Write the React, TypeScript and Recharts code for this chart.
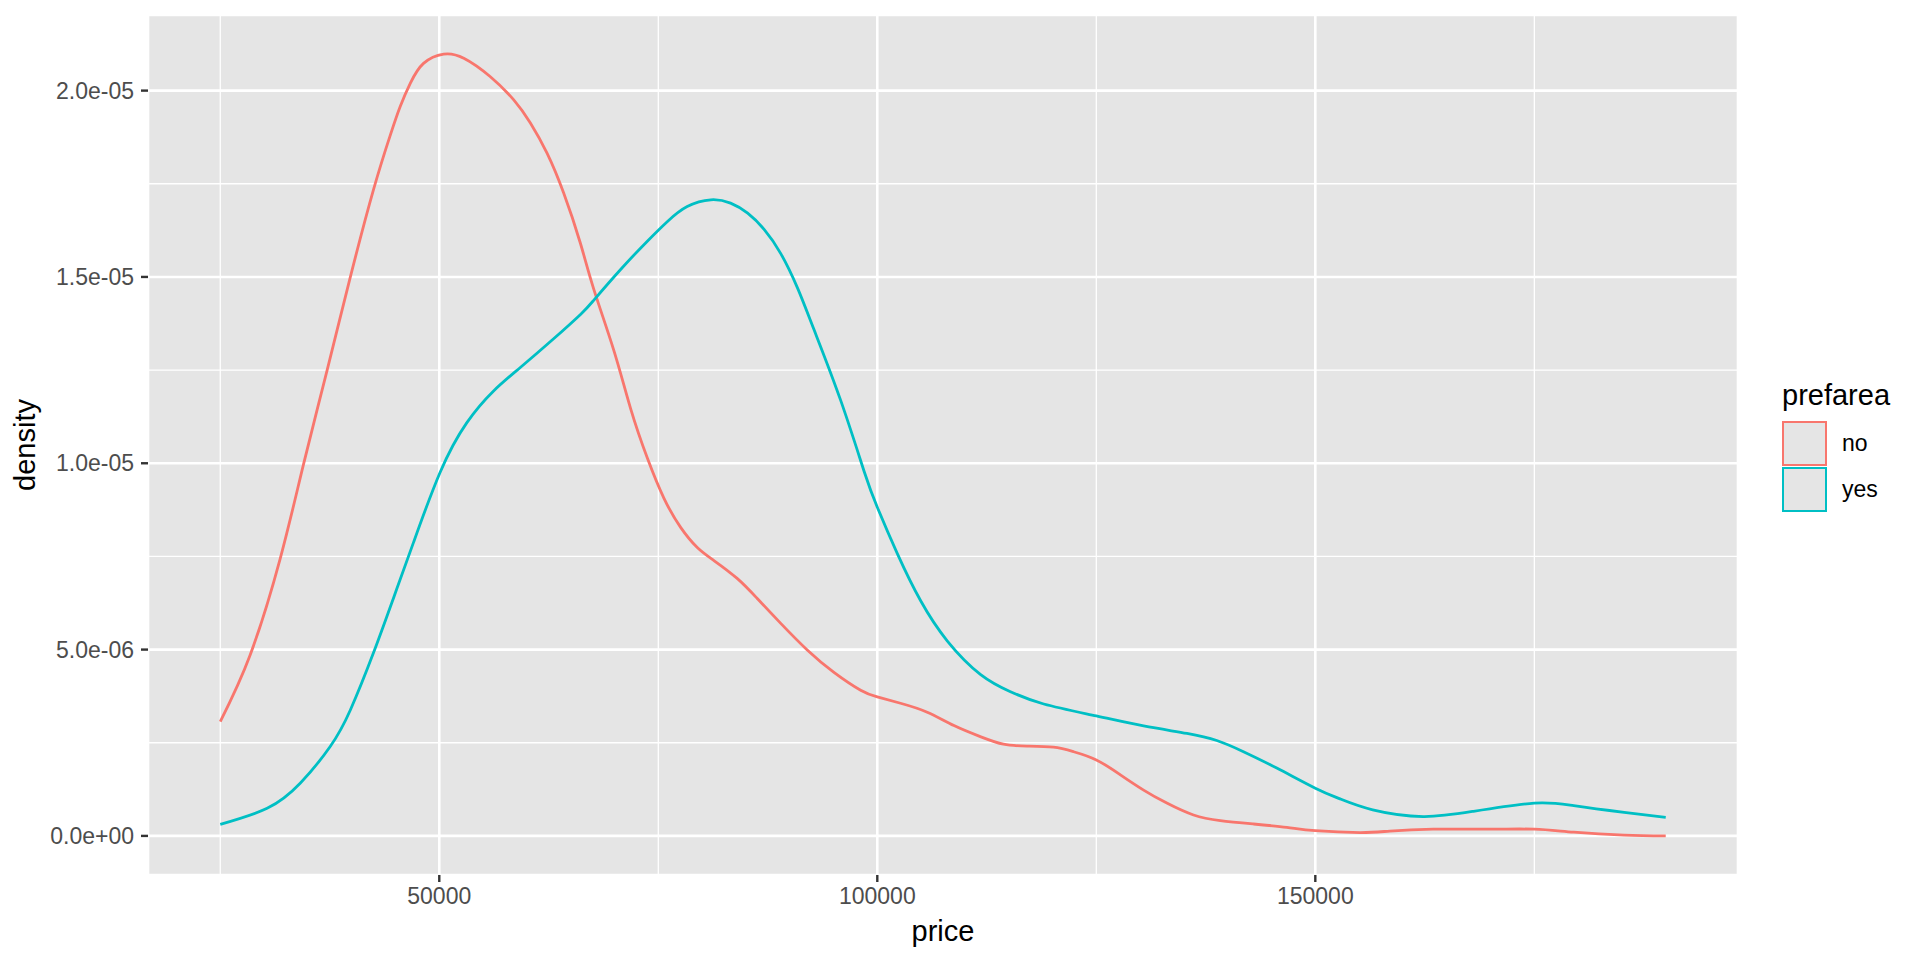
import { LineChart, Line, XAxis, YAxis, CartesianGrid, ReferenceLine, Label } from 'recharts';

// density of price, prefarea = "no"
const priceNo = [
  25000, 28400, 31850, 34500, 37200, 39850, 42500, 44400, 45550, 46700, 48200,
  50500, 52800, 55800, 58500, 60400, 62300, 64200, 66100, 67650, 69950, 71850, 73750,
  75650, 77550, 79450, 81350, 84000, 86300, 88950, 92000, 95050, 98100, 100000, 102650,
  105700, 108750, 111800, 114400, 117100, 120100, 122400, 125000, 127750, 130400, 133050,
  136100, 139150, 142950, 146750, 150000, 155100, 158500, 163450, 169950, 175000, 179500,
  185250, 190000,
];
const densityNo = [
  0.307e-5, 0.485e-5, 0.745e-5, 0.997e-5, 1.25e-5, 1.5e-5, 1.735e-5, 1.88e-5,
  1.958e-5, 2.02e-5, 2.073e-5, 2.098e-5, 2.087e-5, 2.038e-5, 1.975e-5, 1.913e-5, 1.832e-5,
  1.725e-5, 1.591e-5, 1.466e-5, 1.301e-5, 1.146e-5, 1.014e-5, 0.906e-5, 0.828e-5, 0.774e-5,
  0.739e-5, 0.691e-5, 0.637e-5, 0.571e-5, 0.499e-5, 0.439e-5, 0.391e-5, 0.373e-5, 0.356e-5,
  0.332e-5, 0.296e-5, 0.266e-5, 0.246e-5, 0.241e-5, 0.238e-5, 0.226e-5, 0.204e-5, 0.164e-5,
  0.123e-5, 0.088e-5, 0.056e-5, 0.041e-5, 0.032e-5, 0.023e-5, 0.014e-5, 0.009e-5, 0.013e-5,
  0.018e-5, 0.018e-5, 0.018e-5, 0.01e-5, 0.002e-5, 0,
];

// density of price, prefarea = "yes"
const priceYes = [
  25000, 30350, 34150, 37550, 39850, 42500, 44800, 47050, 50100, 53150, 56200, 59250,
  63050, 66150, 67650, 70700, 73750, 76050, 78300, 81000, 83250, 85200, 87100, 89000,
  90900, 92750, 95800, 98500, 100000, 102300, 104950, 108000, 111800, 115200, 119000,
  125000, 130400, 135350, 138750, 141800, 145600, 150000, 152750, 156550, 162300, 168050,
  175000, 179500, 185250, 190000,
];
const densityYes = [
  0.031e-5, 0.074e-5, 0.142e-5, 0.24e-5, 0.338e-5, 0.492e-5, 0.64e-5, 0.787e-5, 0.976e-5,
  1.109e-5, 1.194e-5, 1.257e-5, 1.334e-5, 1.4e-5, 1.438e-5, 1.52e-5, 1.596e-5, 1.649e-5,
  1.689e-5, 1.707e-5, 1.698e-5, 1.671e-5, 1.627e-5, 1.562e-5, 1.47e-5, 1.36e-5, 1.17e-5,
  0.978e-5, 0.882e-5, 0.757e-5, 0.631e-5, 0.523e-5, 0.433e-5, 0.387e-5, 0.354e-5, 0.322e-5,
  0.295e-5, 0.275e-5, 0.256e-5, 0.226e-5, 0.182e-5, 0.128e-5, 0.1e-5, 0.07e-5, 0.052e-5,
  0.066e-5, 0.088e-5, 0.081e-5, 0.063e-5, 0.05e-5,
];

const xTicks = [50000, 100000, 150000];
const xMinor = [25000, 75000, 125000, 175000];
const yTicks = [0, 0.5e-5, 1.0e-5, 1.5e-5, 2.0e-5];
const yMinor = [0.25e-5, 0.75e-5, 1.25e-5, 1.75e-5];

const groups = ['no', 'yes'];
const colors = ['#F8766D', '#00BFC4'];

const FONT = '"Liberation Sans", Arial, Helvetica, sans-serif';
const PANEL = '#E5E5E5';

const toRows = (xs: number[], ys: number[]) => xs.map((p, i) => ({ price: p, density: ys[i] }));
const series = [toRows(priceNo, densityNo), toRows(priceYes, densityYes)];

// ggplot-style 5% expansion of the data range
const expand = (lo: number, hi: number) => {
  const pad = (hi - lo) * 0.05;
  return [lo - pad, hi + pad];
};
const allPrice = [...priceNo, ...priceYes];
const allDensity = [...densityNo, ...densityYes];
const xDomain = expand(Math.min(...allPrice), Math.max(...allPrice));
const yDomain = expand(Math.min(...allDensity), Math.max(...allDensity));

const sci = (v: number) =>
  v.toExponential(1).replace(/e([+-])(\d+)$/, (_m, s, d) => `e${s}${d.padStart(2, '0')}`);

export default function App() {
  return (
    <div style={{ position: 'absolute', left: 0, top: 0, width: 1920, height: 960, background: '#fff', fontFamily: FONT }}>
      <LineChart
        width={1920}
        height={960}
        margin={{ top: 15, right: 182, bottom: 0, left: 0 }}
        style={{ fontFamily: FONT }}
      >
        <CartesianGrid fill={PANEL} stroke="#FFFFFF" strokeWidth={2.6} />
        {xMinor.map((v) => (
          <ReferenceLine key={`xm${v}`} x={v} stroke="#FFFFFF" strokeWidth={1.3} />
        ))}
        {yMinor.map((v) => (
          <ReferenceLine key={`ym${v}`} y={v} stroke="#FFFFFF" strokeWidth={1.3} />
        ))}
        <XAxis
          dataKey="price"
          type="number"
          domain={xDomain}
          allowDataOverflow
          ticks={xTicks}
          interval={0}
          height={85}
          axisLine={false}
          tickSize={7}
          tickMargin={6}
          tickLine={{ stroke: '#333333', strokeWidth: 2.4 }}
          tick={{ fill: '#4D4D4D', fontSize: 23 }}
        >
          <Label
            content={({ viewBox }: any) => (
              <text
                x={viewBox.x + viewBox.width / 2}
                y={viewBox.y + 66}
                textAnchor="middle"
                fontSize={29}
                fill="#000"
              >
                price
              </text>
            )}
          />
        </XAxis>
        <YAxis
          type="number"
          domain={yDomain}
          allowDataOverflow
          ticks={yTicks}
          interval={0}
          width={148}
          axisLine={false}
          tickSize={7}
          tickMargin={7}
          tickFormatter={sci}
          tickLine={{ stroke: '#333333', strokeWidth: 2.4 }}
          tick={{ fill: '#4D4D4D', fontSize: 23 }}
        >
          <Label
            content={({ viewBox }: any) => {
              const cx = viewBox.x + 35;
              const cy = viewBox.y + viewBox.height / 2;
              return (
                <text x={cx} y={cy} textAnchor="middle" fontSize={29} fill="#000" transform={`rotate(-90, ${cx}, ${cy})`}>
                  density
                </text>
              );
            }}
          />
        </YAxis>
        {series.map((rows, i) => (
          <Line
            key={groups[i]}
            data={rows}
            dataKey="density"
            type="natural"
            stroke={colors[i]}
            strokeWidth={2.8}
            dot={false}
            activeDot={false}
            isAnimationActive={false}
          />
        ))}
      </LineChart>

      <div style={{ position: 'absolute', left: 1782, top: 378, color: '#000' }}>
        <div style={{ fontSize: 29, lineHeight: '34px', height: 42 }}>prefarea</div>
        {groups.map((g, i) => (
          <div key={g} style={{ display: 'flex', alignItems: 'center', height: 46 }}>
            <div
              style={{
                width: 41,
                height: 41,
                background: PANEL,
                border: `2.4px solid ${colors[i]}`,
                boxSizing: 'content-box',
              }}
            />
            <span style={{ fontSize: 23, marginLeft: 15 }}>{g}</span>
          </div>
        ))}
      </div>
    </div>
  );
}
